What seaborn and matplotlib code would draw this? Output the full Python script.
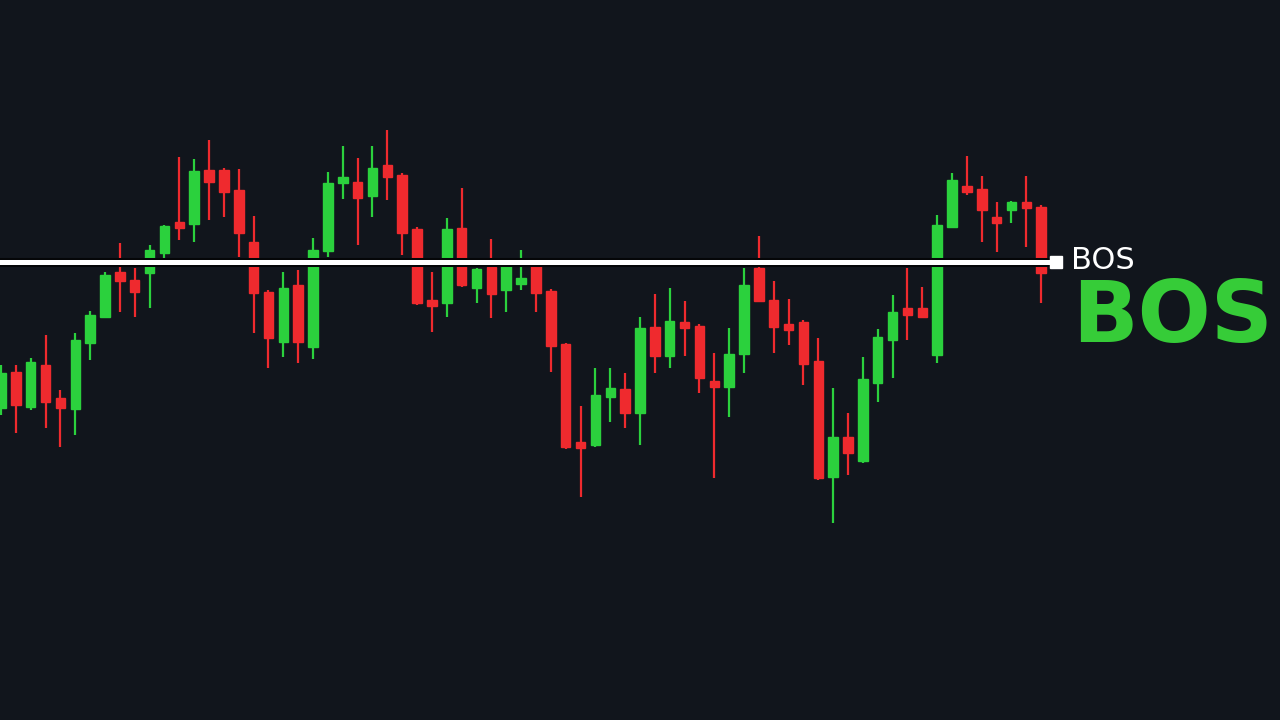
import numpy as np
import pandas as pd
import matplotlib
matplotlib.use("Agg")
import matplotlib.pyplot as plt
import matplotlib.patheffects as pe
import seaborn as sns

# ---- data (price units) ----
opens = [312, 348, 313, 355, 322, 311, 377, 403, 448, 440, 447, 467, 498, 496, 550, 550, 530, 478,
         428, 378, 435, 373, 469, 537, 538, 524, 555, 545, 491, 418, 417, 492, 432, 453, 430, 437,
         455, 429, 376, 277, 275, 323, 331, 307, 393, 364, 398, 394, 339, 333, 366, 452, 420, 396,
         398, 359, 243, 283, 259, 337, 380, 412, 412, 365, 493, 534, 531, 503, 510, 518, 513]
closes = [347, 315, 358, 318, 312, 380, 405, 445, 439, 428, 470, 494, 492, 549, 538, 528, 487, 427,
          382, 432, 378, 470, 537, 543, 522, 552, 543, 487, 417, 416, 491, 435, 451, 426, 456, 441,
          427, 374, 273, 274, 325, 332, 307, 392, 364, 399, 393, 342, 333, 366, 435, 419, 393, 391,
          356, 242, 283, 267, 341, 383, 408, 405, 403, 495, 540, 529, 510, 498, 518, 512, 447]
highs = [355, 355, 362, 385, 330, 387, 409, 448, 477, 452, 475, 495, 563, 561, 580, 552, 551, 504,
         430, 448, 450, 482, 548, 574, 562, 574, 590, 547, 493, 448, 502, 532, 452, 481, 458, 470,
         457, 431, 377, 314, 352, 352, 347, 403, 426, 432, 419, 396, 367, 392, 452, 484, 439, 421,
         400, 382, 332, 307, 363, 391, 425, 452, 433, 505, 547, 564, 544, 518, 519, 544, 515]
lows = [305, 287, 310, 292, 273, 285, 360, 402, 408, 403, 412, 462, 480, 478, 500, 503, 463, 387,
        352, 363, 357, 361, 463, 521, 475, 503, 520, 465, 415, 388, 403, 433, 417, 402, 408, 430,
        408, 348, 271, 223, 273, 298, 292, 275, 347, 352, 364, 327, 242, 303, 347, 418, 367, 375,
        335, 240, 197, 245, 257, 318, 342, 380, 402, 357, 492, 525, 478, 468, 497, 473, 417]
bos_level = 458
bos_label_small = "BOS"
bos_label_big = "BOS"

# ---- style ----
BG = "#11151c"
GREEN = "#2bd13d"
RED = "#ef2a2e"
BIG_GREEN = "#36cc38"

sns.set_theme(style="dark", rc={"axes.facecolor": BG, "figure.facecolor": BG})
plt.rcParams["font.family"] = ["DejaVu Sans"]

df = pd.DataFrame({"open": opens, "close": closes, "high": highs, "low": lows})
df["idx"] = np.arange(len(df))
df["up"] = df["close"] >= df["open"]

fig = plt.figure(figsize=(12.8, 7.2), dpi=100)
ax = fig.add_axes([0, 0, 1, 1])
ax.set_facecolor(BG)

spacing_px = 14.86
ax.set_xlim(-1 / spacing_px, 1279 / spacing_px)
ax.set_ylim(0, 720)

colors = np.where(df["up"], GREEN, RED)

# wicks
ax.vlines(df["idx"], df["low"], df["high"], colors=colors, linewidth=1.6, zorder=2)

# bodies (min visible height for doji-like candles)
body_lo = np.minimum(df["open"], df["close"]).astype(float)
body_h = (df["open"] - df["close"]).abs().astype(float)
min_h = 6.0
pad = np.clip(min_h - body_h, 0, None) / 2
ax.bar(df["idx"], body_h + 2 * pad, bottom=body_lo - pad, width=0.64,
       color=colors, edgecolor=colors, linewidth=1.0, zorder=3)

# BOS line
n = len(df)
line_df = pd.DataFrame({"x": [-1, n], "y": [bos_level, bos_level]})
sns.lineplot(data=line_df, x="x", y="y", ax=ax, color="white", linewidth=3.6,
             zorder=5, legend=False,
             path_effects=[pe.Stroke(linewidth=6.5, foreground="#050608"), pe.Normal()])
ax.plot([n], [bos_level], marker="s", markersize=8, color="white",
        markeredgecolor="white", zorder=6)

# labels
ax.text(n + 1.0, bos_level - 7, bos_label_small, color="white", fontsize=22,
        ha="left", va="baseline", zorder=7)
ax.text(n + 1.1, bos_level - 80, bos_label_big, color=BIG_GREEN, fontsize=62,
        fontweight="heavy", ha="left", va="baseline", zorder=7)

ax.set_axis_off()
fig.savefig("out.png", dpi=100, facecolor=BG)
